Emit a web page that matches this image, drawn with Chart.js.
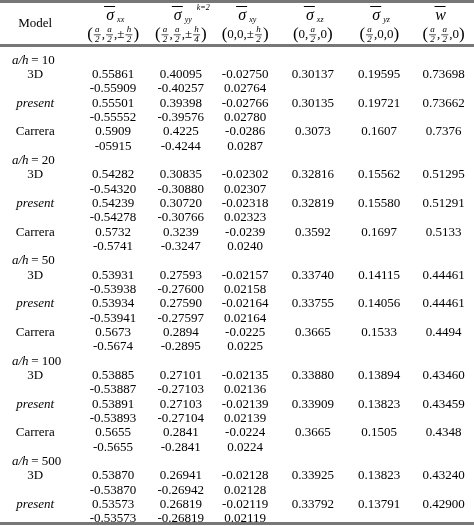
<!DOCTYPE html>
<html><head><meta charset="utf-8">
<script src="https://cdn.jsdelivr.net/npm/chart.js@4.4.0/dist/chart.umd.min.js"></script>
<style>body{margin:0;background:#fff}#wrap{width:474px;height:526px}</style>
</head><body><div id="wrap"><canvas id="c"></canvas></div>
<script>
// columns of the table
const columns = ["Model", "xx", "yy", "xy", "xz", "yz", "w"];
const colSup = ["", "", "k=2", "", "", "", ""];
// coordinates under each header: each part is text or [num, den]
const colCoords = [
  null,
  [["a","2"], ",", ["a","2"], ",\u00b1", ["h","2"]],
  [["a","2"], ",", ["a","2"], ",\u00b1", ["h","4"]],
  ["0,0,\u00b1", ["h","2"]],
  ["0,", ["a","2"], ",0"],
  [["a","2"], ",0,0"],
  [["a","2"], ",", ["a","2"], ",0"]
];
const ratios = ["10", "20", "50", "100", "500"];
const models = ["3D", "present", "Carrera"];
// values[ratio][model] = [top row, bottom row]
const values = [
  [[["0.55861","0.40095","-0.02750","0.30137","0.19595","0.73698"],["-0.55909","-0.40257","0.02764"]],
   [["0.55501","0.39398","-0.02766","0.30135","0.19721","0.73662"],["-0.55552","-0.39576","0.02780"]],
   [["0.5909","0.4225","-0.0286","0.3073","0.1607","0.7376"],["-05915","-0.4244","0.0287"]]],
  [[["0.54282","0.30835","-0.02302","0.32816","0.15562","0.51295"],["-0.54320","-0.30880","0.02307"]],
   [["0.54239","0.30720","-0.02318","0.32819","0.15580","0.51291"],["-0.54278","-0.30766","0.02323"]],
   [["0.5732","0.3239","-0.0239","0.3592","0.1697","0.5133"],["-0.5741","-0.3247","0.0240"]]],
  [[["0.53931","0.27593","-0.02157","0.33740","0.14115","0.44461"],["-0.53938","-0.27600","0.02158"]],
   [["0.53934","0.27590","-0.02164","0.33755","0.14056","0.44461"],["-0.53941","-0.27597","0.02164"]],
   [["0.5673","0.2894","-0.0225","0.3665","0.1533","0.4494"],["-0.5674","-0.2895","0.0225"]]],
  [[["0.53885","0.27101","-0.02135","0.33880","0.13894","0.43460"],["-0.53887","-0.27103","0.02136"]],
   [["0.53891","0.27103","-0.02139","0.33909","0.13823","0.43459"],["-0.53893","-0.27104","0.02139"]],
   [["0.5655","0.2841","-0.0224","0.3665","0.1505","0.4348"],["-0.5655","-0.2841","0.0224"]]],
  [[["0.53870","0.26941","-0.02128","0.33925","0.13823","0.43240"],["-0.53870","-0.26942","0.02128"]],
   [["0.53573","0.26819","-0.02119","0.33792","0.13791","0.42900"],["-0.53573","-0.26819","0.02119"]]]
];

// build rows: {label, italic, cells, group}
const rows = [];
ratios.forEach(function (r, gi) {
  rows.push({group: r});
  values[gi].forEach(function (mv, mi) {
    rows.push({label: models[mi], italic: mi == 1, cells: mv[0]});
    rows.push({label: "", cells: mv[1]});
  });
});

const colX = [0, 1.15, 2.15, 3.1, 4.1, 5.08, 6.03];
const serif = '"Liberation Serif", "DejaVu Serif", serif';

function drawFrac(ctx, x, y, f) {
  ctx.font = "italic 9px " + serif;
  ctx.textAlign = "center";
  ctx.fillText(f[0], x, y - 5);
  ctx.fillText(f[1], x, y + 5);
  ctx.fillRect(x - 3.5, y - 0.5, 7, 0.7);
  return 9;
}
function coordWidth(ctx, parts) {
  let w = 0;
  parts.forEach(function (p) {
    if (typeof p == "string") { ctx.font = "13px " + serif; w += ctx.measureText(p).width; }
    else w += 9;
  });
  return w + 11;
}

const tablePlugin = {
  id: "table",
  afterDraw(chart) {
    const ctx = chart.ctx, xs = chart.scales.x, ys = chart.scales.y;
    ctx.save();
    ctx.textBaseline = "middle";
    // rules
    ctx.fillStyle = "#777";
    ctx.fillRect(0, 0, 474, 3);
    ctx.fillRect(0, 44, 474, 3);
    ctx.fillRect(0, 522, 474, 3);
    ctx.fillStyle = "#000";
    // header
    columns.forEach(function (c, i) {
      const x = xs.getPixelForValue(colX[i]);
      if (i == 0) {
        ctx.font = "13px " + serif; ctx.textAlign = "center";
        ctx.fillText("Model", x, 24);
        return;
      }
      const yTop = 16;
      ctx.font = "italic 16px " + serif; ctx.textAlign = "center";
      const sym = c == "w" ? "w" : "\u03c3";
      ctx.fillText(sym, x - 3, yTop);
      ctx.fillRect(x - 9, yTop - 10, 11, 1);
      if (c != "w") {
        ctx.font = "italic 8px " + serif; ctx.textAlign = "left";
        ctx.fillText(c, x + 4, yTop + 4);
      }
      if (colSup[i]) {
        ctx.font = "italic 8px " + serif;
        ctx.fillText(colSup[i], x + 16, yTop - 8);
      }
      const parts = colCoords[i];
      const w = coordWidth(ctx, parts);
      let cx = x - w / 2;
      const cy = 35;
      ctx.font = "17px " + serif; ctx.textAlign = "left";
      ctx.fillText("(", cx, cy); cx += 5.5;
      parts.forEach(function (p) {
        if (typeof p == "string") {
          ctx.font = "13px " + serif; ctx.textAlign = "left";
          ctx.fillText(p, cx, cy); cx += ctx.measureText(p).width;
        } else { cx += drawFrac(ctx, cx + 4.5, cy, p); }
      });
      ctx.font = "17px " + serif; ctx.textAlign = "left";
      ctx.fillText(")", cx, cy);
    });
    // body
    rows.forEach(function (r, ri) {
      const y = ys.getPixelForValue(ri);
      if (r.group) {
        ctx.textAlign = "left";
        ctx.font = "italic 13px " + serif;
        ctx.fillText("a/h", 12, y);
        ctx.font = "13px " + serif;
        ctx.fillText(" = " + r.group, 12 + ctx.measureText("a/h").width, y);
        return;
      }
      ctx.textAlign = "center";
      ctx.font = (r.italic ? "italic " : "") + "13px " + serif;
      if (r.label) ctx.fillText(r.label, xs.getPixelForValue(colX[0]), y);
      ctx.font = "13px " + serif;
      r.cells.forEach(function (v, ci) {
        ctx.fillText(v, xs.getPixelForValue(colX[ci + 1]), y);
      });
    });
    ctx.restore();
  }
};

new Chart(document.getElementById("c"), {
  type: "scatter",
  data: {datasets: [{data: []}]},
  options: {
    responsive: true, maintainAspectRatio: false, animation: false,
    layout: {padding: 0},
    plugins: {legend: {display: false}, tooltip: {enabled: false}},
    scales: {
      x: {type: "linear", min: -0.52, max: 6.48, display: false},
      y: {type: "linear", min: -4.2, max: 32.5, reverse: true, display: false}
    }
  },
  plugins: [tablePlugin]
});
</script></body></html>
